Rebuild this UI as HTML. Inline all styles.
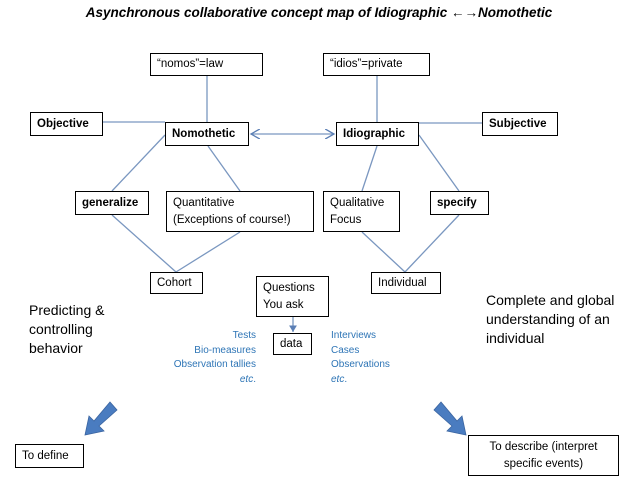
<!DOCTYPE html>
<html><head><meta charset="utf-8"><style>
body{margin:0;width:638px;height:479px;background:#fff;position:relative;overflow:hidden;font-family:"Liberation Sans",sans-serif;}
.b{position:absolute;border:1.3px solid #000;box-sizing:border-box;font-size:11.5px;padding-left:6px;display:flex;align-items:center;line-height:17px;background:#fff}
.bd{font-weight:bold}
.t{position:absolute;font-size:14px;line-height:19px}
.bl{position:absolute;color:#2e75b6;font-size:10px;line-height:14.5px}
</style></head><body>
<div style="position:absolute;left:0;width:638px;top:5px;text-align:center;font-style:italic;font-weight:bold;font-size:13.5px">Asynchronous collaborative concept map of Idiographic &#8592;&#8594;Nomothetic</div>
<svg width="638" height="479" style="position:absolute;left:0;top:0">
<defs><marker id="a" markerWidth="8" markerHeight="8" refX="7" refY="4" orient="auto-start-reverse"><path d="M0,0 L7,4 L0,8" fill="none" stroke="#5b7fb5" stroke-width="1"/></marker>
<marker id="s" markerWidth="6" markerHeight="6" refX="5" refY="3" orient="auto"><path d="M0,0 L5,3 L0,6z" fill="#5b7fb5"/></marker></defs>
<g stroke="#7a97c0" stroke-width="1.3" fill="none">
<line x1="207" y1="76" x2="207" y2="122"/>
<line x1="377" y1="76" x2="377" y2="122"/>
<line x1="103" y1="122" x2="165" y2="122"/>
<line x1="419" y1="123" x2="482" y2="123"/>
<line x1="251" y1="134" x2="334" y2="134" marker-start="url(#a)" marker-end="url(#a)"/>
<line x1="165" y1="135" x2="112" y2="191"/>
<line x1="208" y1="146" x2="240" y2="191"/>
<line x1="377" y1="146" x2="362" y2="191"/>
<line x1="419" y1="135" x2="459" y2="191"/>
<line x1="112" y1="215" x2="176" y2="272"/>
<line x1="240" y1="232" x2="176" y2="272"/>
<line x1="362" y1="232" x2="405" y2="272"/>
<line x1="459" y1="215" x2="405" y2="272"/>
<line x1="293" y1="317" x2="293" y2="332" marker-end="url(#s)"/>
</g>
<g fill="#4a7cc0" stroke="#3a64a0" stroke-width="0.8">
<polygon points="110,402 117,410 99,426 104,431 85,435 89,416 94,421"/>
<polygon points="441,402 434,410 452,426 447,431 466,435 462,416 457,421"/>
</g>
</svg>
<div class="b" style="left:150px;top:53px;width:113px;height:23px">“nomos”=law</div>
<div class="b" style="left:323px;top:53px;width:107px;height:23px">“idios”=private</div>
<div class="b bd" style="left:30px;top:112px;width:73px;height:24px">Objective</div>
<div class="b bd" style="left:482px;top:112px;width:76px;height:24px">Subjective</div>
<div class="b bd" style="left:165px;top:122px;width:84px;height:24px">Nomothetic</div>
<div class="b bd" style="left:336px;top:122px;width:83px;height:24px">Idiographic</div>
<div class="b bd" style="left:75px;top:191px;width:74px;height:24px">generalize</div>
<div class="b" style="left:166px;top:191px;width:148px;height:41px">Quantitative<br>(Exceptions of course!)</div>
<div class="b" style="left:323px;top:191px;width:77px;height:41px">Qualitative<br>Focus</div>
<div class="b bd" style="left:430px;top:191px;width:59px;height:24px">specify</div>
<div class="b" style="left:150px;top:272px;width:53px;height:22px">Cohort</div>
<div class="b" style="left:256px;top:276px;width:73px;height:41px">Questions<br>You ask</div>
<div class="b" style="left:371px;top:272px;width:70px;height:22px">Individual</div>
<div class="b" style="left:273px;top:333px;width:39px;height:22px">data</div>
<div class="b" style="left:15px;top:444px;width:69px;height:24px">To define</div>
<div class="b" style="left:468px;top:435px;width:151px;height:41px;justify-content:center;text-align:center;padding:0">To describe (interpret<br>specific events)</div>
<div class="t" style="left:29px;top:301px">Predicting &amp;<br>controlling<br>behavior</div>
<div class="t" style="left:486px;top:291px">Complete and global<br>understanding of an<br>individual</div>
<div class="bl" style="right:382px;top:329px;text-align:right">Tests<br>Bio-measures<br>Observation tallies<br><i>etc</i>.</div>
<div class="bl" style="left:331px;top:329px">Interviews<br>Cases<br>Observations<br><i>etc</i>.</div>
</body></html>
